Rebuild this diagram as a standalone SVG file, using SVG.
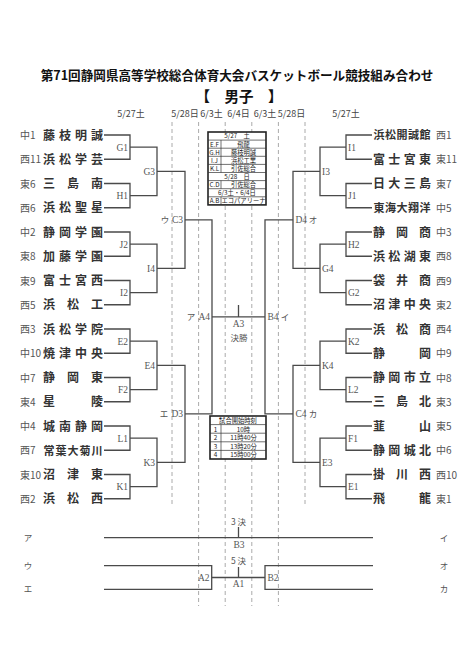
<svg xmlns="http://www.w3.org/2000/svg" width="474" height="670" viewBox="0 0 474 670">
<style>
.bg{fill:#fff}
.ln{fill:none;stroke:#4a4a4a;stroke-width:1.3}
.dash{fill:none;stroke:#aaa;stroke-width:1;stroke-dasharray:4 3}
.nm{font-family:'Noto Sans CJK JP',sans-serif;font-size:12px;font-weight:bold;fill:#333;text-anchor:middle}
.nm5{font-size:11px}
.sd{font-family:'Noto Sans CJK JP',sans-serif;font-size:10px;fill:#555}
.lb{font-family:'Liberation Serif','Noto Sans CJK JP',serif;font-size:9.5px;fill:#555}
.kn{font-family:'Noto Sans CJK JP',sans-serif;font-size:8.5px;fill:#555;text-anchor:middle}
.dt{font-family:'Noto Sans CJK JP',sans-serif;font-size:9px;fill:#444;text-anchor:middle}
.ttl{font-family:'Noto Sans CJK JP',sans-serif;font-weight:bold;fill:#111;text-anchor:middle}
.tb{fill:#fff;stroke:#222;stroke-width:1.6}
.tl{stroke:#333;stroke-width:0.7;fill:none}
.tt{font-family:'Noto Sans CJK JP',sans-serif;font-size:6.3px;fill:#222;text-anchor:middle}
.end{text-anchor:end}
.mid{text-anchor:middle}
</style>
<rect class="bg" width="474" height="670"/>
<g id="title">
<text class="ttl" x="237" y="79.5" font-size="12.6">第71回静岡県高等学校総合体育大会バスケットボール競技組み合わせ</text>
<text class="ttl" x="239" y="102" font-size="14.5">【　男子　】</text>
</g>
<g id="dates">
<text class="dt" x="131" y="117">5/27土</text>
<text class="dt" x="185" y="117">5/28日</text>
<text class="dt" x="211.5" y="117">6/3土</text>
<text class="dt" x="238.5" y="117">6/4日</text>
<text class="dt" x="265" y="117">6/3土</text>
<text class="dt" x="291.5" y="117">5/28日</text>
<text class="dt" x="346" y="117">5/27土</text>
</g>
<g id="guides">
<path class="dash" d="M172 122V506M305 122V506M198.6 122V606M225.2 122V606M251.8 122V606M278.4 122V606"/>
</g>
<g id="connectors">
<path class="ln" d="M104 135H130V159.25H104M104 183.5H130V207.75H104M104 232H130V256.25H104M104 280.5H130V304.75H104M104 329H130V353.25H104M104 377.5H130V401.75H104M104 426H130V450.25H104M104 474.5H130V498.75H104"/>
<path class="ln" d="M130 147.125H157V195.625H130M130 244.125H157V292.625H130M130 341.125H157V389.625H130M130 438.125H157V486.625H130"/>
<path class="ln" d="M157 171.375H185V268.375H157M157 365.375H185V462.375H157"/>
<path class="ln" d="M185 219.875H212V413.875H185"/>
<path class="ln" d="M372 135H346V159.25H372M372 183.5H346V207.75H372M372 232H346V256.25H372M372 280.5H346V304.75H372M372 329H346V353.25H372M372 377.5H346V401.75H372M372 426H346V450.25H372M372 474.5H346V498.75H372"/>
<path class="ln" d="M346 147.125H320V195.625H346M346 244.125H320V292.625H346M346 341.125H320V389.625H346M346 438.125H320V486.625H346"/>
<path class="ln" d="M320 171.375H293V268.375H320M320 365.375H293V462.375H320"/>
<path class="ln" d="M293 219.875H265V413.875H293"/>
<path class="ln" d="M212 316.875H265M238.5 305V316.875"/>
<path class="ln" d="M104 537.7H373M238.5 527V537.7"/>
<path class="ln" d="M104 565.7H211.7V589.3H104M373 565.7H265V589.3H373M211.7 577.5H265M238.5 567V577.5"/>
</g>
<g id="team-L0"><text class="sd" x="20" y="139">中1</text><text class="nm" x="49 65 81 97" y="139.5">藤枝明誠</text></g>
<g id="team-L1"><text class="sd" x="20" y="163.25">西11</text><text class="nm" x="49 65 81 97" y="163.75">浜松学芸</text></g>
<g id="team-L2"><text class="sd" x="20" y="187.5">東6</text><text class="nm" x="49 73 97" y="188">三島南</text></g>
<g id="team-L3"><text class="sd" x="20" y="211.75">西6</text><text class="nm" x="49 65 81 97" y="212.25">浜松聖星</text></g>
<g id="team-L4"><text class="sd" x="20" y="236">中2</text><text class="nm" x="49 65 81 97" y="236.5">静岡学園</text></g>
<g id="team-L5"><text class="sd" x="20" y="260.25">東8</text><text class="nm" x="49 65 81 97" y="260.75">加藤学園</text></g>
<g id="team-L6"><text class="sd" x="20" y="284.5">東9</text><text class="nm" x="49 65 81 97" y="285">富士宮西</text></g>
<g id="team-L7"><text class="sd" x="20" y="308.75">西5</text><text class="nm" x="49 73 97" y="309.25">浜松工</text></g>
<g id="team-L8"><text class="sd" x="20" y="333">西3</text><text class="nm" x="49 65 81 97" y="333.5">浜松学院</text></g>
<g id="team-L9"><text class="sd" x="20" y="357.25">中10</text><text class="nm" x="49 65 81 97" y="357.75">焼津中央</text></g>
<g id="team-L10"><text class="sd" x="20" y="381.5">中7</text><text class="nm" x="49 73 97" y="382">静岡東</text></g>
<g id="team-L11"><text class="sd" x="20" y="405.75">東4</text><text class="nm" x="49 97" y="406.25">星陵</text></g>
<g id="team-L12"><text class="sd" x="20" y="430">中4</text><text class="nm" x="49 65 81 97" y="430.5">城南静岡</text></g>
<g id="team-L13"><text class="sd" x="20" y="454.25">西7</text><text class="nm nm5" x="49 61 73 85 97" y="454.5">常葉大菊川</text></g>
<g id="team-L14"><text class="sd" x="20" y="478.5">東10</text><text class="nm" x="49 73 97" y="479">沼津東</text></g>
<g id="team-L15"><text class="sd" x="20" y="502.75">西2</text><text class="nm" x="49 73 97" y="503.25">浜松西</text></g>
<g id="team-R0"><text class="nm nm5" x="379 390.5 402 413.5 425" y="139.25">浜松開誠館</text><text class="sd" x="436" y="139">西1</text></g>
<g id="team-R1"><text class="nm" x="379 394.33 409.67 425" y="163.75">富士宮東</text><text class="sd" x="436" y="163.25">東11</text></g>
<g id="team-R2"><text class="nm" x="379 394.33 409.67 425" y="188">日大三島</text><text class="sd" x="436" y="187.5">東7</text></g>
<g id="team-R3"><text class="nm nm5" x="379 390.5 402 413.5 425" y="212">東海大翔洋</text><text class="sd" x="436" y="211.75">中5</text></g>
<g id="team-R4"><text class="nm" x="379 402 425" y="236.5">静岡商</text><text class="sd" x="436" y="236">中3</text></g>
<g id="team-R5"><text class="nm" x="379 394.33 409.67 425" y="260.75">浜松湖東</text><text class="sd" x="436" y="260.25">西8</text></g>
<g id="team-R6"><text class="nm" x="379 402 425" y="285">袋井商</text><text class="sd" x="436" y="284.5">西9</text></g>
<g id="team-R7"><text class="nm" x="379 394.33 409.67 425" y="309.25">沼津中央</text><text class="sd" x="436" y="308.75">東2</text></g>
<g id="team-R8"><text class="nm" x="379 402 425" y="333.5">浜松商</text><text class="sd" x="436" y="333">西4</text></g>
<g id="team-R9"><text class="nm" x="379 425" y="357.75">静岡</text><text class="sd" x="436" y="357.25">中9</text></g>
<g id="team-R10"><text class="nm" x="379 394.33 409.67 425" y="382">静岡市立</text><text class="sd" x="436" y="381.5">中8</text></g>
<g id="team-R11"><text class="nm" x="379 402 425" y="406.25">三島北</text><text class="sd" x="436" y="405.75">東3</text></g>
<g id="team-R12"><text class="nm" x="379 425" y="430.5">韮山</text><text class="sd" x="436" y="430">東5</text></g>
<g id="team-R13"><text class="nm" x="379 394.33 409.67 425" y="454.75">静岡城北</text><text class="sd" x="436" y="454.25">中6</text></g>
<g id="team-R14"><text class="nm" x="379 402 425" y="479">掛川西</text><text class="sd" x="436" y="478.5">西10</text></g>
<g id="team-R15"><text class="nm" x="379 425" y="503.25">飛龍</text><text class="sd" x="436" y="502.75">東1</text></g>
<g id="match-labels">
<text class="lb end" x="128" y="150.5">G1</text>
<text class="lb end" x="128" y="199">H1</text>
<text class="lb end" x="128" y="247.5">J2</text>
<text class="lb end" x="128" y="296">I2</text>
<text class="lb end" x="128" y="344.5">E2</text>
<text class="lb end" x="128" y="393">F2</text>
<text class="lb end" x="128" y="441.5">L1</text>
<text class="lb end" x="128" y="490">K1</text>
<text class="lb end" x="155" y="174.7">G3</text>
<text class="lb end" x="155" y="271.7">I4</text>
<text class="lb end" x="155" y="368.7">E4</text>
<text class="lb end" x="155" y="465.7">K3</text>
<text class="lb end" x="183" y="223.2">C3</text>
<text class="kn" x="165" y="223">ウ</text>
<text class="lb end" x="183" y="417.2">D3</text>
<text class="kn" x="164" y="417">エ</text>
<text class="lb end" x="210" y="320.2">A4</text>
<text class="kn" x="191" y="320">ア</text>
<text class="lb" x="348" y="150.5">I1</text>
<text class="lb" x="348" y="199">J1</text>
<text class="lb" x="348" y="247.5">H2</text>
<text class="lb" x="348" y="296">G2</text>
<text class="lb" x="348" y="344.5">K2</text>
<text class="lb" x="348" y="393">L2</text>
<text class="lb" x="348" y="441.5">F1</text>
<text class="lb" x="348" y="490">E1</text>
<text class="lb" x="322" y="174.7">I3</text>
<text class="lb" x="322" y="271.7">G4</text>
<text class="lb" x="322" y="368.7">K4</text>
<text class="lb" x="322" y="465.7">E3</text>
<text class="lb" x="295.5" y="223.2">D4</text>
<text class="kn" x="313" y="223">オ</text>
<text class="lb" x="295.5" y="417.2">C4</text>
<text class="kn" x="313" y="417">カ</text>
<text class="lb" x="267.5" y="320.2">B4</text>
<text class="kn" x="285" y="320">イ</text>
<text class="lb mid" x="238.5" y="327">A3</text>
<text class="kn" x="239" y="340.5" font-size="9">決勝</text>
</g>
<g id="venue-table">
<rect class="tb" x="208" y="132" width="58" height="72.9"/>
<path class="tl" d="M208 140.1H266M208 148.2H266M208 156.3H266M208 164.4H266M208 180.6H266M208 196.8H266M221 140.1V172.5M221 180.6V188.7M221 196.8V204.9"/>
<path class="tl" stroke-width="1.3" d="M208 172.5H266M208 188.7H266"/>
<text class="tt" x="237" y="138.4">5/27　土</text>
<text class="tt" x="214.5" y="146.5">E.F</text><text class="tt" x="243.5" y="146.5">飛龍</text>
<text class="tt" x="214.5" y="154.6">G.H</text><text class="tt" x="243.5" y="154.6">藤枝明誠</text>
<text class="tt" x="214.5" y="162.7">I.J</text><text class="tt" x="243.5" y="162.7">浜松工業</text>
<text class="tt" x="214.5" y="170.8">K.L</text><text class="tt" x="243.5" y="170.8">引佐総合</text>
<text class="tt" x="237" y="178.9">5/28　日</text>
<text class="tt" x="214.5" y="187">C.D</text><text class="tt" x="243.5" y="187">引佐総合</text>
<text class="tt" x="237" y="195.1">6/3土・6/4日</text>
<text class="tt" x="214.5" y="203.2">A.B</text><text class="tt" x="243.5" y="203.2" font-size="5.5">エコパアリーナ</text>
</g>
<g id="time-table">
<rect class="tb" x="210" y="416" width="56" height="43"/>
<path class="tl" d="M210 424.6H266M210 433.2H266M210 441.8H266M210 450.4H266M221 424.6V459"/>
<text class="tt" x="238" y="422.9">試合開始時刻</text>
<text class="tt" x="215.5" y="431.5">1</text><text class="tt" x="243.5" y="431.5">10時</text>
<text class="tt" x="215.5" y="440.1">2</text><text class="tt" x="243.5" y="440.1">11時40分</text>
<text class="tt" x="215.5" y="448.7">3</text><text class="tt" x="243.5" y="448.7">13時20分</text>
<text class="tt" x="215.5" y="457.3">4</text><text class="tt" x="243.5" y="457.3">15時00分</text>
</g>
<g id="placement-games">
<text class="kn" x="238.5" y="525" font-size="9">3 決</text>
<text class="lb mid" x="239" y="548">B3</text>
<text class="kn" x="238.5" y="564" font-size="9">5 決</text>
<text class="lb end" x="209.5" y="581">A2</text>
<text class="lb mid" x="238.5" y="587">A1</text>
<text class="lb" x="267.5" y="581">B2</text>
<text class="kn" x="28" y="540.5">ア</text>
<text class="kn" x="28" y="568.5">ウ</text>
<text class="kn" x="28" y="592">エ</text>
<text class="kn" x="444" y="540.5">イ</text>
<text class="kn" x="444" y="568.5">オ</text>
<text class="kn" x="444" y="592">カ</text>
</g>
</svg>
